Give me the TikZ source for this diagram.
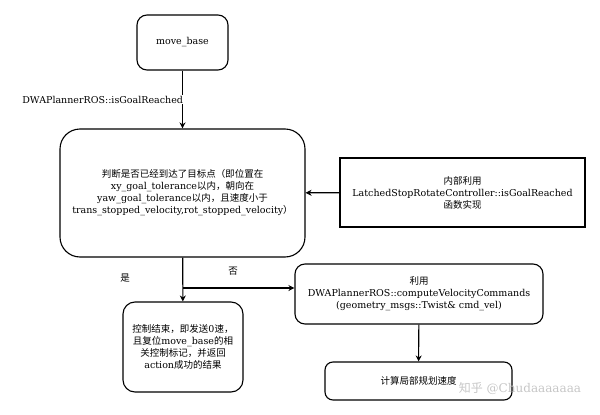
\documentclass[tikz,border=0pt]{standalone}
\usepackage{fontspec}
\setmainfont{DejaVu Serif}
\newfontfamily\cjk{Noto Sans CJK SC}
\usetikzlibrary{arrows.meta}
\begin{document}
\begin{tikzpicture}[x=1pt,y=-1pt,
  box/.style={draw,line width=1.1pt,rounded corners=#1,align=center,font=\fontsize{9.5}{12}\selectfont,inner sep=0pt},
  arr/.style={line width=1.1pt,-{Stealth[length=6pt,width=6pt]}},
  lab/.style={font=\fontsize{9.5}{12}\selectfont}]
\useasboundingbox (0,0) rectangle (600,415);
\node[box=10pt,minimum width=91pt,minimum height=55pt] (mb) at (182.5,42.5) {move\_base};
\node[box=20pt,minimum width=245pt,minimum height=128pt] (main) at (182.5,193) {{\cjk 判断是否已经到达了目标点（即位置在}\\xy\_goal\_tolerance{\cjk 以内，朝向在}\\yaw\_goal\_tolerance{\cjk 以内，且速度小于}\\trans\_stopped\_velocity,rot\_stopped\_velocity{\cjk ）}};
\node[box=0pt,minimum width=245pt,minimum height=69pt] (r) at (462.5,192.5) {{\cjk 内部利用}\\LatchedStopRotateController::isGoalReached\\{\cjk 函数实现}};
\node[box=10pt,minimum width=248pt,minimum height=60pt] (g) at (419,294) {{\cjk 利用}\\DWAPlannerROS::computeVelocityCommands\\(geometry\_msgs::Twist\& cmd\_vel)};
\node[box=12pt,minimum width=120pt,minimum height=90pt] (lb) at (183,347) {{\cjk 控制结束，即发送}0{\cjk 速，}\\{\cjk 且复位}move\_base{\cjk 的相}\\{\cjk 关控制标记，并返回}\\action{\cjk 成功的结果}};
\node[box=8pt,minimum width=187pt,minimum height=38pt] (b) at (418.5,381) {\cjk 计算局部规划速度};
\draw[arr] (mb) -- (main) node[pos=0.5,lab,left=-2pt,fill=white,inner sep=1pt] {DWAPlannerROS::isGoalReached};
\draw[arr] (main) -- (lb);
\coordinate (br) at (183,288);
\draw[arr] (br) -- (g.west|-br);
\draw[arr] (r) -- (main);
\draw[arr] (g) -- (b);
\node[lab] (yes) at (125,278) {\cjk 是};
\node[lab] (no) at (233,271) {\cjk 否};
\node[font=\fontsize{12}{14}\selectfont,text=gray!45] (wm) at (520,388) {{\cjk 知乎} @Chudaaaaaaa};
\end{tikzpicture}
\end{document}
